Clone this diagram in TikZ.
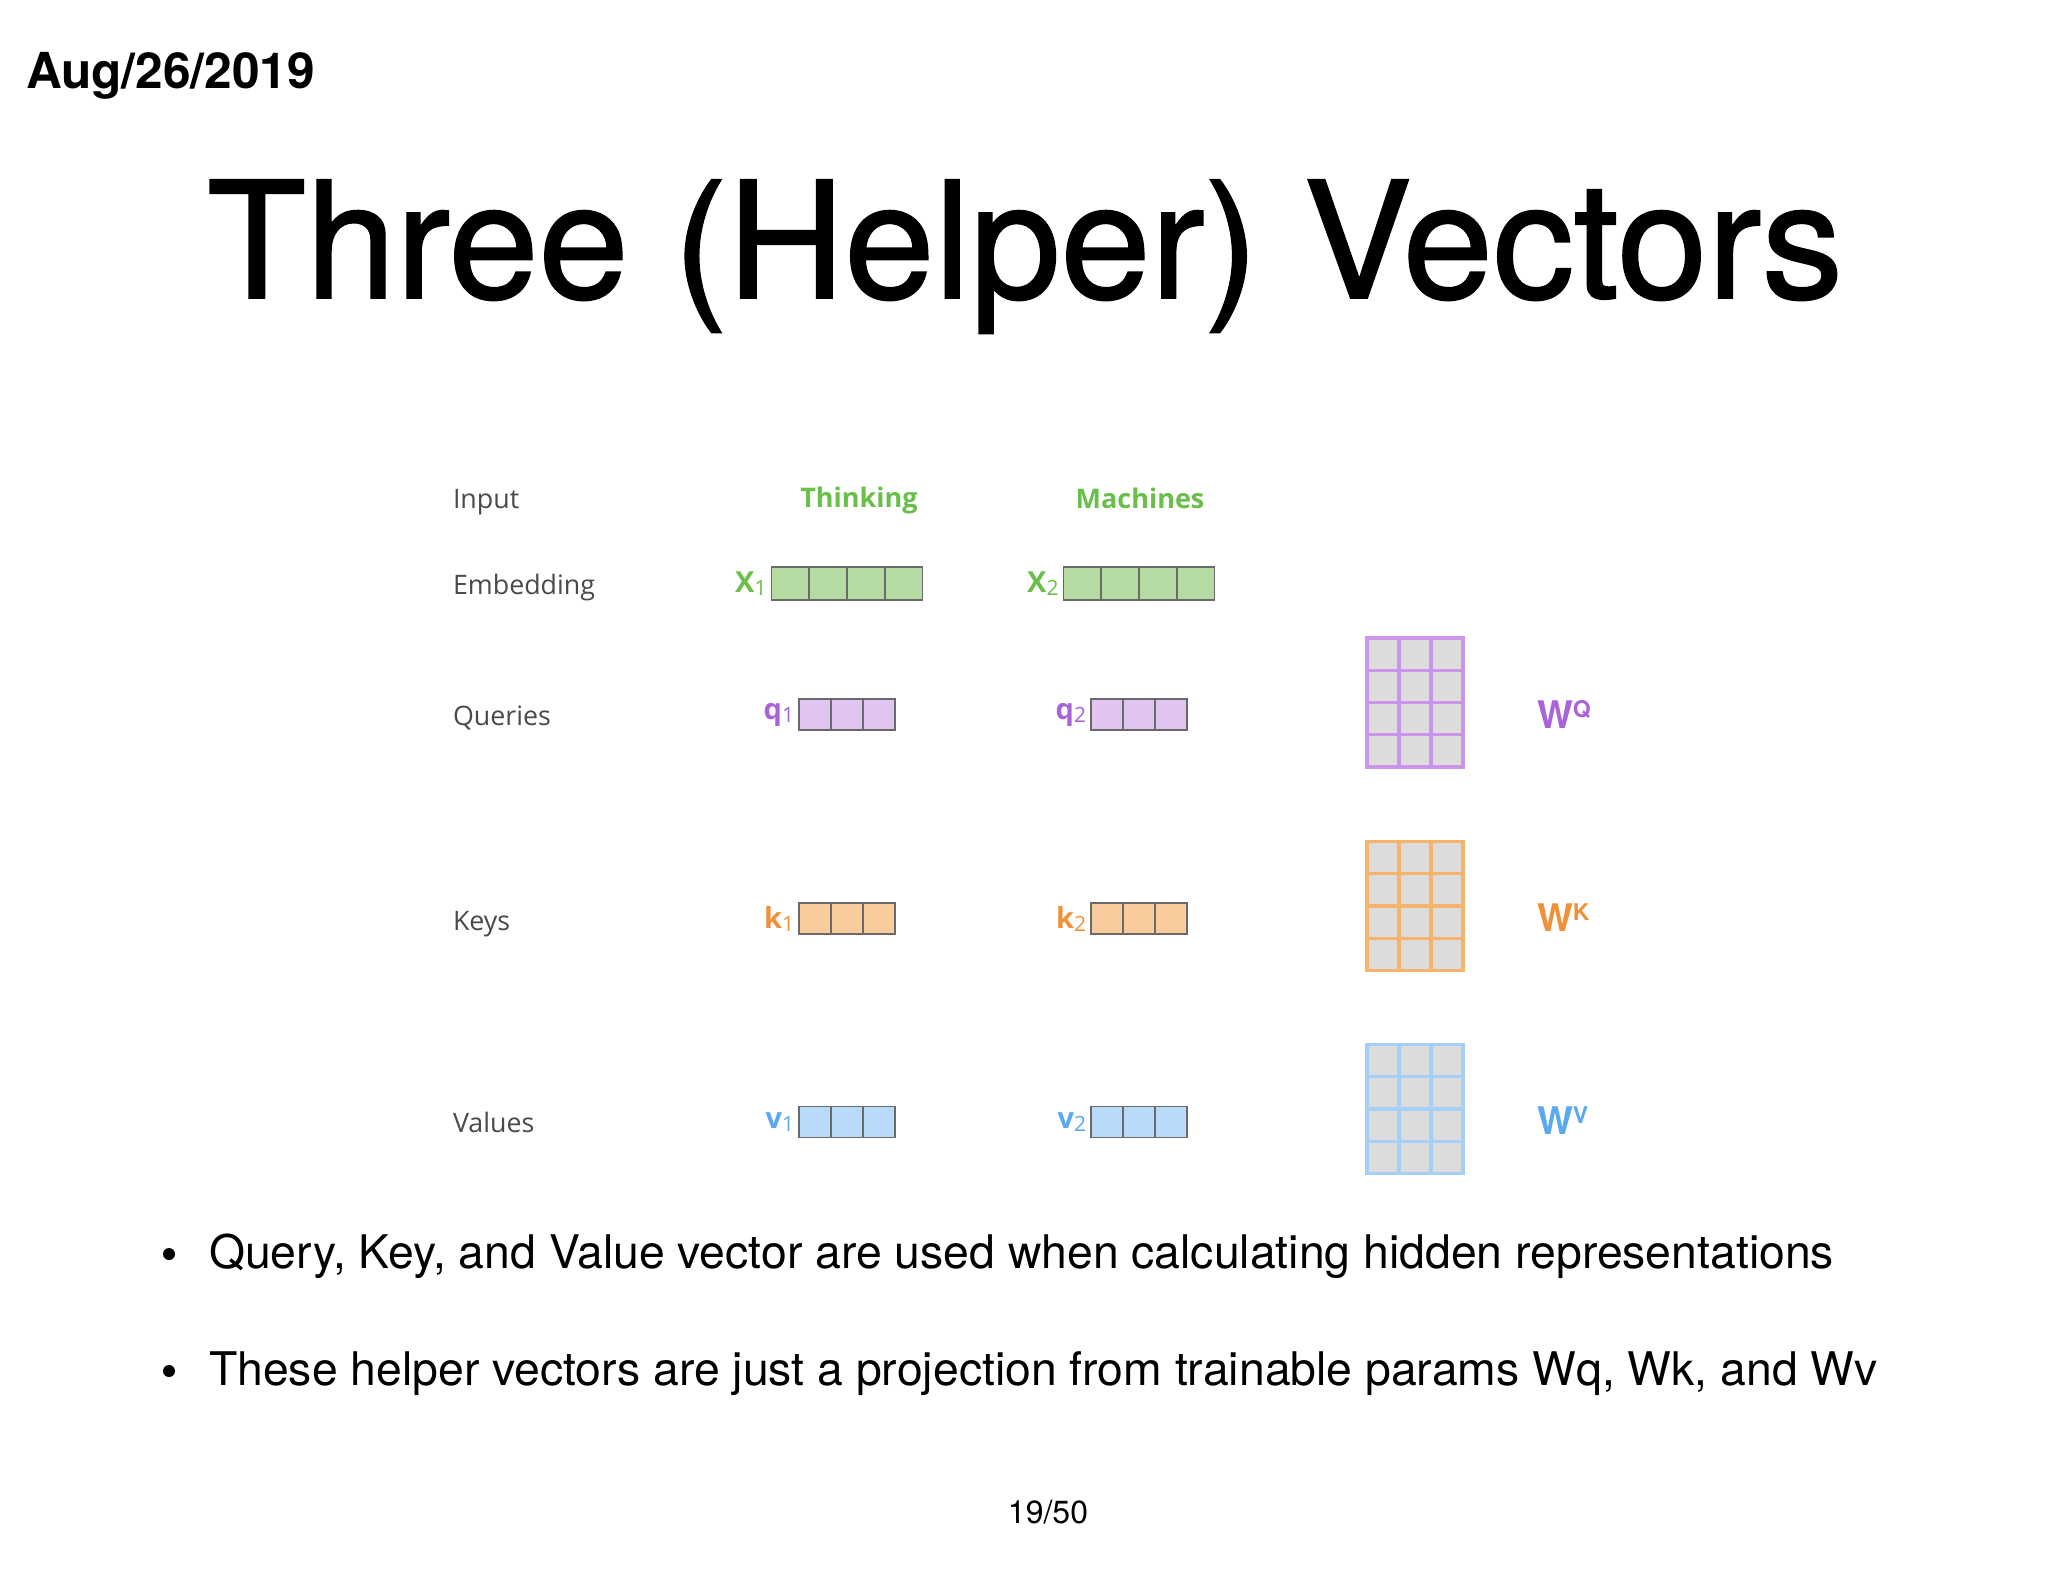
\documentclass[tikz,border=0pt]{standalone}
\usepackage{fontspec}
\setmainfont{TeX Gyre Heros}
\newfontfamily\titlefont[FakeBold=1.2]{TeX Gyre Heros}
\newfontfamily\dfont{Open Sans}
\usetikzlibrary{calc}
\definecolor{lblgray}{HTML}{4A4A4A}
\definecolor{gtxt}{HTML}{6ABF4B}
\definecolor{gfill}{HTML}{B6DBA2}
\definecolor{ptxt}{HTML}{A864D8}
\definecolor{pfill}{HTML}{E0C4F1}
\definecolor{pline}{HTML}{CB95EC}
\definecolor{otxt}{HTML}{F0913A}
\definecolor{ofill}{HTML}{F9CC9D}
\definecolor{oline}{HTML}{F5B36B}
\definecolor{btxt}{HTML}{5AA8EE}
\definecolor{bfill}{HTML}{B9DAF8}
\definecolor{bline}{HTML}{A6CFF6}
\definecolor{mgray}{HTML}{DCDCDC}
\definecolor{vborder}{HTML}{6A6A6A}
\tikzset{
  rowlabel/.style={anchor=west, text=lblgray, font=\dfont\fontsize{13.4}{16}\selectfont},
  wordlabel/.style={anchor=center, text=gtxt, font=\dfont\bfseries\fontsize{13.5}{16}\selectfont},
  vec4/.style={draw=vborder, line width=0.8pt, rectangle, minimum width=75.5pt, minimum height=16.5pt},
  vec3/.style={draw=vborder, line width=0.8pt, rectangle, minimum width=48pt, minimum height=15.5pt},
  veclabel/.style={anchor=east, font=\dfont\bfseries\fontsize{14.5}{16}\selectfont},
  wmat/.style={rectangle, fill=mgray, minimum width=48pt, minimum height=64.5pt},
  wlabel/.style={anchor=west, font=\bfseries\fontsize{19}{21}\selectfont},
  bullettext/.style={anchor=base west, font=\fontsize{23.17}{28}\selectfont},
  dot/.style={circle, fill=black, minimum size=6pt},
}
\newcommand{\subn}[1]{\raisebox{-1.5pt}{\mdseries\fontsize{10.5}{11}\selectfont #1}}
\newcommand{\supn}[1]{\raisebox{5.5pt}{\fontsize{11.5}{12}\selectfont #1}}
\begin{document}
\begin{tikzpicture}[x=0.5pt,y=-0.5pt, every node/.append style={inner sep=0pt, outer sep=0pt}]
\useasboundingbox[fill=white] (0,0) rectangle (2048,1582);

% header
\node[anchor=base west, font=\fontsize{24.8}{30}\selectfont\bfseries] (date) at (26,89) {Aug/26/2019};
\node[anchor=base, font=\titlefont\fontsize{81}{90}\selectfont] (title) at (1025,298) {Three (Helper) Vectors};

% row labels
\node[rowlabel] (lin) at (453,502) {Input};
\node[rowlabel] (lemb) at (453,588) {Embedding};
\node[rowlabel] (lq) at (453,718) {Queries};
\node[rowlabel] (lk) at (453,924) {Keys};
\node[rowlabel] (lv) at (453,1122) {Values};

% words
\node[wordlabel] (w1) at (859,500) {Thinking};
\node[wordlabel] (w2) at (1140,498) {Machines};

% embeddings
\node[vec4, fill=gfill] (x1) at (847,583.5) {};
\node[vec4, fill=gfill] (x2) at (1139,583.5) {};
% queries
\node[vec3, fill=pfill] (q1) at (847,714.5) {};
\node[vec3, fill=pfill] (q2) at (1139,714.5) {};
% keys
\node[vec3, fill=ofill] (k1) at (847,918.5) {};
\node[vec3, fill=ofill] (k2) at (1139,918.5) {};
% values
\node[vec3, fill=bfill] (v1) at (847,1122) {};
\node[vec3, fill=bfill] (v2) at (1139,1122) {};

\foreach \n in {x1,x2}{
  \foreach \i in {1,2,3}
    \draw[vborder, line width=0.8pt] ($(\n.north west)!\i/4!(\n.north east)$) -- ($(\n.south west)!\i/4!(\n.south east)$);
}
\foreach \n in {q1,q2,k1,k2,v1,v2}{
  \foreach \i in {1,2}
    \draw[vborder, line width=0.8pt] ($(\n.north west)!\i/3!(\n.north east)$) -- ($(\n.south west)!\i/3!(\n.south east)$);
}

% vector labels
\node[veclabel, text=gtxt] (tx1) at ([xshift=-2.5pt]x1.west) {X\subn{1}};
\node[veclabel, text=gtxt] (tx2) at ([xshift=-2.5pt]x2.west) {X\subn{2}};
\node[veclabel, text=ptxt] (tq1) at ([xshift=-2.5pt]q1.west) {q\subn{1}};
\node[veclabel, text=ptxt] (tq2) at ([xshift=-2.5pt]q2.west) {q\subn{2}};
\node[veclabel, text=otxt] (tk1) at ([xshift=-2.5pt]k1.west) {k\subn{1}};
\node[veclabel, text=otxt] (tk2) at ([xshift=-2.5pt]k2.west) {k\subn{2}};
\node[veclabel, text=btxt] (tv1) at ([xshift=-2.5pt]v1.west) {v\subn{1}};
\node[veclabel, text=btxt] (tv2) at ([xshift=-2.5pt]v2.west) {v\subn{2}};

% weight matrices
\node[wmat] (wq) at (1415,702.5) {};
\node[wmat] (wk) at (1415,906) {};
\node[wmat] (wv) at (1415,1109) {};
\foreach \n/\c in {wq/pline,wk/oline,wv/bline}{
  \draw[\c, line width=1.7pt] (\n.north west) rectangle (\n.south east);
  \foreach \i in {1,2}
    \draw[\c, line width=1.7pt] ($(\n.north west)!\i/3!(\n.north east)$) -- ($(\n.south west)!\i/3!(\n.south east)$);
  \foreach \i in {1,2,3}
    \draw[\c, line width=1.7pt] ($(\n.north west)!\i/4!(\n.south west)$) -- ($(\n.north east)!\i/4!(\n.south east)$);
}
\node[wlabel, text=ptxt] (twq) at (1537,714) {W\supn{Q}};
\node[wlabel, text=otxt] (twk) at (1537,918) {W\supn{K}};
\node[wlabel, text=btxt] (twv) at (1537,1121) {W\supn{V}};

% bullets
\node[dot] (d1) at (169,1254) {};
\node[bullettext] (b1) at (209,1268) {Query, Key, and Value vector are used when calculating hidden representations};
\node[dot] (d2) at (169,1371) {};
\node[bullettext] (b2) at (209,1385.5) {These helper vectors are just a projection from trainable params Wq, Wk, and Wv};

% page number
\node[anchor=base, font=\fontsize{16}{20}\selectfont] (pg) at (1048,1523) {19/50};
\end{tikzpicture}
\end{document}
